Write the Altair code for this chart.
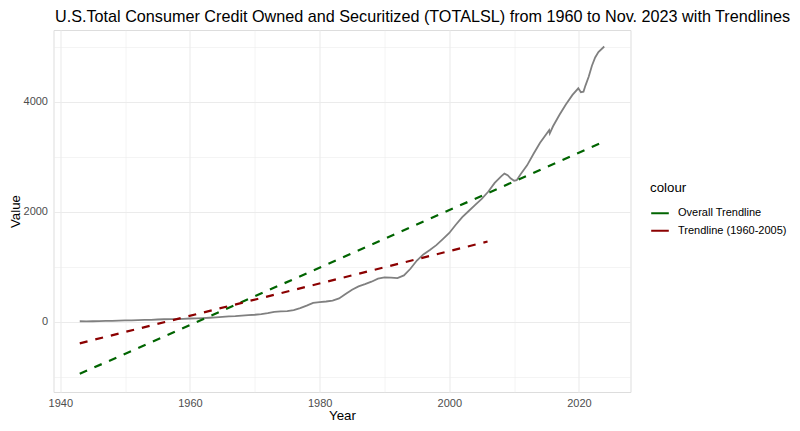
import altair as alt
import pandas as pd

# Main series: TOTALSL (billions USD)
years = [1943, 1944, 1945, 1946, 1947, 1948, 1949, 1950, 1951, 1952, 1953, 1954,
         1955, 1956, 1957, 1958, 1959, 1960, 1961, 1962, 1963, 1964, 1965, 1966,
         1967, 1968, 1969, 1970, 1971, 1972, 1973, 1974, 1975, 1976, 1977, 1978,
         1979, 1980, 1981, 1982, 1983, 1984, 1985, 1986, 1987, 1988, 1989, 1990,
         1991, 1992, 1993, 1994, 1995, 1996, 1997, 1998, 1999, 2000, 2001, 2002,
         2003, 2004, 2005, 2006, 2007, 2008.0, 2008.5, 2009.0, 2009.5, 2010.0,
         2010.4, 2011, 2012, 2013, 2014, 2015.4, 2015.5, 2016, 2017, 2018, 2019,
         2019.9, 2020.3, 2020.7, 2021, 2021.5, 2022, 2022.5, 2023, 2023.9]
values = [6, 5, 6, 8, 11, 14, 17, 21, 22, 27, 31, 32,
          38, 42, 45, 45, 51, 56, 58, 63, 70, 78, 87, 94,
          99, 108, 118, 124, 135, 153, 175, 185, 190, 210, 245, 290,
          340, 355, 365, 380, 420, 500, 580, 640, 680, 725, 780, 805,
          800, 790, 840, 960, 1110, 1220, 1300, 1390, 1500, 1610, 1760, 1900,
          2010, 2120, 2230, 2360, 2520, 2640, 2690, 2660, 2600, 2560,
          2570, 2680, 2840, 3050, 3250, 3480, 3420, 3550, 3760, 3950, 4120,
          4240, 4170, 4180, 4290, 4450, 4650, 4800, 4900, 5000]

# Trendline endpoints
trend_names = ["Overall Trendline", "Overall Trendline",
               "Trendline (1960-2005)", "Trendline (1960-2005)"]
trend_years = [1943, 2023.9, 1943, 2005.9]
trend_values = [-950, 3273, -395, 1455]

series_domain = ["Overall Trendline", "Trendline (1960-2005)"]
series_colors = ["#006400", "#8B0000"]

x_ticks = [1940, 1950, 1960, 1970, 1980, 1990, 2000, 2010, 2020]
y_ticks = [-1000, 0, 1000, 2000, 3000, 4000, 5000]

df_main = pd.DataFrame({"year": years, "value": values})
df_trend = pd.DataFrame({"series": trend_names, "year": trend_years, "value": trend_values})

FONT = "Liberation Sans"

x_scale = alt.Scale(domain=[1938.95, 2027.95], nice=False, zero=False)
y_scale = alt.Scale(domain=[-1280, 5300], nice=False, zero=False)

x_axis = alt.Axis(
    values=x_ticks, format="d", title="Year",
    labelExpr="datum.value % 20 === 0 ? datum.label : ''",
    gridWidth={"condition": {"test": "datum.value % 20 === 0", "value": 1.1}, "value": 0.55},
    gridColor="#EBEBEB", domain=False, ticks=False,
    labelColor="#4D4D4D", labelFontSize=11, labelPadding=5, labelFont=FONT,
    titleFont=FONT, titleFontSize=13.3, titleFontWeight="normal", titleColor="#000000",
    titlePadding=0,
)
y_axis = alt.Axis(
    values=y_ticks, format="d", title="Value",
    labelExpr="datum.value % 2000 === 0 ? datum.label : ''",
    gridWidth={"condition": {"test": "datum.value % 2000 === 0", "value": 1.1}, "value": 0.55},
    gridColor="#EBEBEB", domain=False, ticks=False,
    labelColor="#4D4D4D", labelFontSize=11, labelPadding=6, labelFont=FONT,
    titleFont=FONT, titleFontSize=13.3, titleFontWeight="normal", titleColor="#000000",
    titlePadding=1,
)

main_line = alt.Chart(df_main).mark_line(color="#808080", strokeWidth=1.8).encode(
    x=alt.X("year:Q", scale=x_scale, axis=x_axis),
    y=alt.Y("value:Q", scale=y_scale, axis=y_axis),
)

trend_lines = alt.Chart(df_trend).mark_line(strokeDash=[8, 8], strokeWidth=2.2).encode(
    x=alt.X("year:Q", scale=x_scale),
    y=alt.Y("value:Q", scale=y_scale),
    color=alt.Color(
        "series:N",
        scale=alt.Scale(domain=series_domain, range=series_colors),
        legend=alt.Legend(
            title="colour", orient="none", legendX=596.5, legendY=151,
            padding=0, symbolType="stroke", symbolSize=310, symbolStrokeWidth=2,
            symbolDash=[1, 0], symbolOffset=0, labelOffset=8,
            rowPadding=2.5, titlePadding=9,
            titleFont=FONT, titleFontSize=13.3, titleFontWeight="normal", titleColor="#000000",
            labelFont=FONT, labelFontSize=11, labelColor="#000000",
        ),
    ),
    detail="series:N",
)

chart = alt.layer(main_line, trend_lines).properties(
    width=577, height=362,
    autosize=alt.AutoSizeParams(type="none"),
    padding={"left": 45.5, "top": 22, "right": 161.5, "bottom": 31},
    title=alt.TitleParams(
        "U.S.Total Consumer Credit Owned and Securitized (TOTALSL) from 1960 to Nov. 2023 with Trendlines",
        anchor="start", frame="group", font=FONT, fontSize=16.2, fontWeight="normal",
        color="#000000", offset=5, dx=1.5,
    ),
).configure_view(stroke=None).configure(background="white")

chart.save("out.html", embed_options={"renderer": "svg", "actions": False})
